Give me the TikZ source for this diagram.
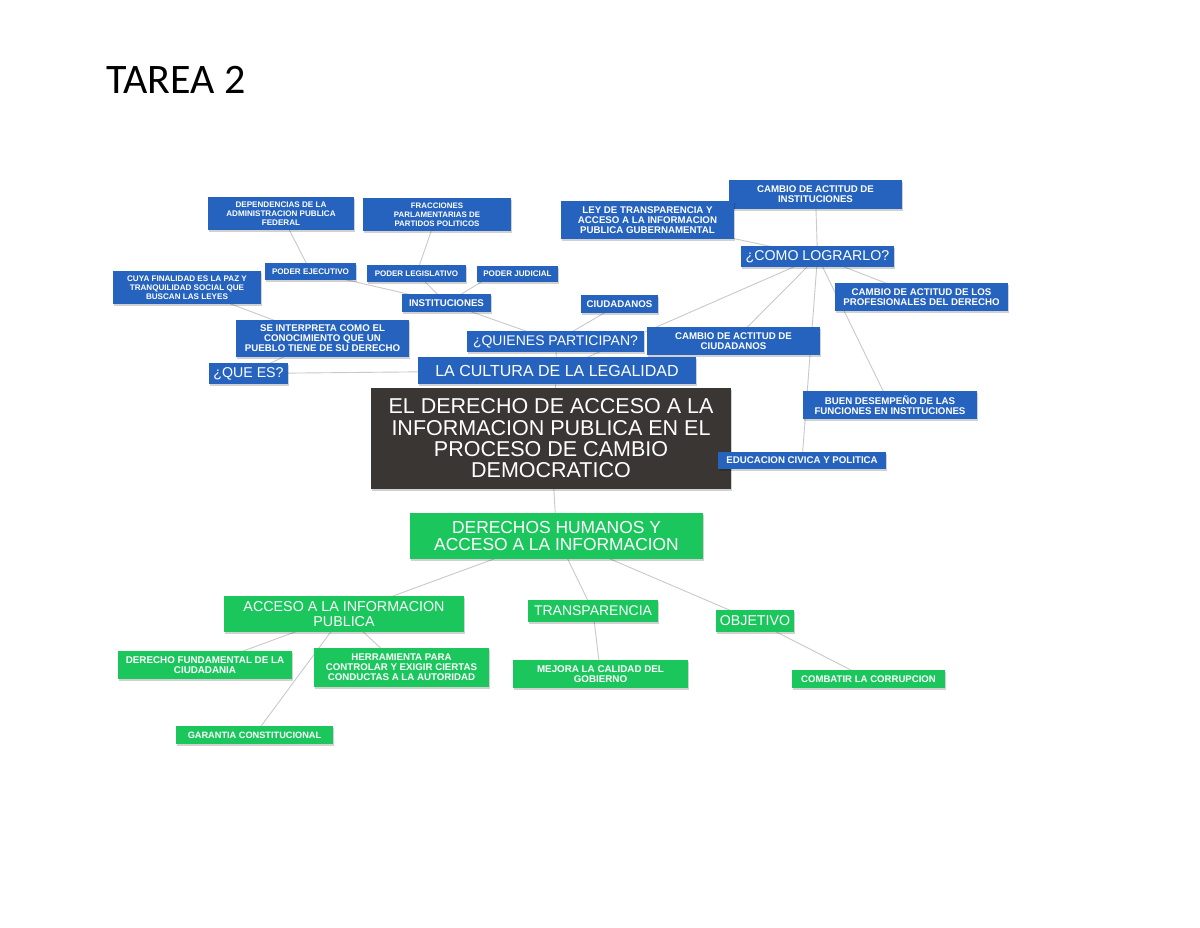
\documentclass[tikz,border=0pt]{standalone}
\usepackage{fontspec}
\setmainfont{Liberation Sans}
\newfontfamily\titlefont{Carlito}
\usetikzlibrary{shadows,backgrounds,calc}
\definecolor{cblue}{HTML}{2563BE}
\definecolor{cgreen}{HTML}{1BC65D}
\definecolor{cdark}{HTML}{3A3634}
\newcommand{\myfs}[2]{\fontsize{#1}{#2}\selectfont}
\newcommand{\mysm}[2]{\fontsize{#1}{#2}\selectfont\bfseries}
\tikzset{
  bx/.style={rectangle, inner sep=0pt, outer sep=0pt, text=white, align=center,
    drop shadow={shadow xshift=1.2pt, shadow yshift=-1.5pt, fill=black, opacity=0.18}},
  blu/.style={bx, fill=cblue},
  grn/.style={bx, fill=cgreen},
  drk/.style={bx, fill=cdark},
  ln/.style={draw=black!21, line width=0.9pt},
}
\begin{document}
\begin{tikzpicture}[x=1pt,y=-1pt]
\useasboundingbox (0,0) rectangle (1200,927);

\node[anchor=base west, inner sep=0pt, font=\titlefont\myfs{42}{42}] (title) at (106,93) {TAREA 2};

% blue top-left cluster
\node[blu, minimum width=146pt, minimum height=33pt, font=\mysm{8.1}{8.8}] (dep) at (281,213.5) {DEPENDENCIAS DE LA\\ADMINISTRACION PUBLICA\\FEDERAL};
\node[blu, minimum width=148pt, minimum height=33pt, font=\mysm{7.9}{8.8}] (frac) at (437,214.5) {FRACCIONES\\PARLAMENTARIAS DE\\PARTIDOS POLITICOS};
\node[blu, minimum width=91pt, minimum height=17pt, font=\mysm{8.1}{8.8}] (pej) at (310.5,271.5) {PODER EJECUTIVO};
\node[blu, minimum width=99pt, minimum height=17pt, font=\mysm{8}{8.8}] (pleg) at (416.5,273.5) {PODER LEGISLATIVO};
\node[blu, minimum width=81pt, minimum height=16pt, font=\mysm{8.1}{8.8}] (pjud) at (517.5,274) {PODER JUDICIAL};
\node[blu, minimum width=148pt, minimum height=33pt, font=\mysm{8.1}{9}] (cuya) at (187,287.5) {CUYA FINALIDAD ES LA PAZ Y\\TRANQUILIDAD SOCIAL QUE\\BUSCAN LAS LEYES};
\node[blu, minimum width=89pt, minimum height=18pt, font=\mysm{9.7}{10}] (inst) at (446.5,303) {INSTITUCIONES};
\node[blu, minimum width=173pt, minimum height=37pt, font=\mysm{9.7}{10}] (sei) at (322.5,338.5) {SE INTERPRETA COMO EL\\CONOCIMIENTO QUE UN\\PUEBLO TIENE DE SU DERECHO};
\node[blu, minimum width=79pt, minimum height=21pt, font=\myfs{14.2}{14}] (quees) at (248.5,373.5) {¿QUE ES?};
\node[blu, minimum width=177pt, minimum height=21pt, font=\myfs{14}{14}] (quien) at (555.5,341.5) {¿QUIENES PARTICIPAN?};
\node[blu, minimum width=278pt, minimum height=27pt, font=\myfs{16}{16}] (cultura) at (557,370.5) {LA CULTURA DE LA LEGALIDAD};
\node[blu, minimum width=77pt, minimum height=18pt, font=\mysm{9.7}{10}] (ciud) at (619.5,304) {CIUDADANOS};

% blue right cluster
\node[blu, minimum width=173pt, minimum height=28pt, font=\mysm{9.7}{10}] (cciud) at (733.5,341) {CAMBIO DE ACTITUD DE\\CIUDADANOS};
\node[blu, minimum width=173pt, minimum height=29pt, font=\mysm{9.7}{10}] (cinst) at (815.5,194.5) {CAMBIO DE ACTITUD DE\\INSTITUCIONES};
\node[blu, minimum width=173pt, minimum height=38pt, font=\mysm{9.7}{10}] (ley) at (647.5,220) {LEY DE TRANSPARENCIA Y\\ACCESO A LA INFORMACION\\PUBLICA GUBERNAMENTAL};
\node[blu, minimum width=153pt, minimum height=21pt, font=\myfs{14.2}{14}] (como) at (817.5,256.5) {¿COMO LOGRARLO?};
\node[blu, minimum width=173pt, minimum height=28pt, font=\mysm{9.7}{10}] (prof) at (921.5,297) {CAMBIO DE ACTITUD DE LOS\\PROFESIONALES DEL DERECHO};
\node[blu, minimum width=174pt, minimum height=28pt, font=\mysm{9.7}{10}] (buen) at (890,405) {BUEN DESEMPEÑO DE LAS\\FUNCIONES EN INSTITUCIONES};

% central
\node[drk, minimum width=360pt, minimum height=101pt, font=\myfs{21.5}{21.3}] (centro) at (551,438.5) {EL DERECHO DE ACCESO A LA\\INFORMACION PUBLICA EN EL\\PROCESO DE CAMBIO\\DEMOCRATICO};

\node[blu, minimum width=168pt, minimum height=17pt, font=\mysm{9.7}{10}] (edu) at (802,460.5) {EDUCACION CIVICA Y POLITICA};

% green
\node[grn, minimum width=293pt, minimum height=46pt, font=\myfs{17.4}{17}] (dh) at (556.5,536) {DERECHOS HUMANOS Y\\ACCESO A LA INFORMACION};
\node[grn, minimum width=240pt, minimum height=36pt, font=\myfs{14.3}{15}] (acc) at (344,614) {ACCESO A LA INFORMACION\\PUBLICA};
\node[grn, minimum width=130pt, minimum height=22pt, font=\myfs{14}{14}] (transp) at (593,611) {TRANSPARENCIA};
\node[grn, minimum width=78pt, minimum height=22pt, font=\myfs{14.2}{14}] (obj) at (755,621) {OBJETIVO};
\node[grn, minimum width=174pt, minimum height=28pt, font=\mysm{9.8}{10}] (dfund) at (205,665) {DERECHO FUNDAMENTAL DE LA\\CIUDADANIA};
\node[grn, minimum width=175pt, minimum height=39pt, font=\mysm{9.7}{10}] (herr) at (401.5,667.5) {HERRAMIENTA PARA\\CONTROLAR Y EXIGIR CIERTAS\\CONDUCTAS A LA AUTORIDAD};
\node[grn, minimum width=175pt, minimum height=28pt, font=\mysm{9.8}{10}] (mej) at (600.5,674) {MEJORA LA CALIDAD DEL\\GOBIERNO};
\node[grn, minimum width=153pt, minimum height=18pt, font=\mysm{9.6}{10}] (comb) at (868.5,679) {COMBATIR LA CORRUPCION};
\node[grn, minimum width=157pt, minimum height=18pt, font=\mysm{9.2}{10}] (gar) at (254.5,735) {GARANTIA CONSTITUCIONAL};

\begin{scope}[on background layer]
\fill[white] (0,0) rectangle (1200,927);
\draw[ln] (centro.center) -- (cultura.center);
\draw[ln] (centro.center) -- (dh.center);
\draw[ln] (cultura.center) -- (quees.center);
\draw[ln] (quees.center) -- (sei.center);
\draw[ln] (sei.center) -- (cuya.center);
\draw[ln] (cultura.center) -- (quien.center);
\draw[ln] (quien.center) -- (inst.center);
\draw[ln] (quien.center) -- (ciud.center);
\draw[ln] (inst.center) -- (pej.center);
\draw[ln] (inst.center) -- (pleg.center);
\draw[ln] (inst.center) -- ($(pjud.center)+(-23,0)$);
\draw[ln] (pej.center) -- (dep.center);
\draw[ln] (pleg.center) -- (frac.center);
\draw[ln] (cultura.center) -- (como.center);
\draw[ln] (como.center) -- (ley.center);
\draw[ln] (como.center) -- (cinst.center);
\draw[ln] (como.center) -- (prof.center);
\draw[ln] (como.center) -- (cciud.center);
\draw[ln] (como.center) -- (buen.center);
\draw[ln] (como.center) -- (edu.center);
\draw[ln] (dh.center) -- (acc.center);
\draw[ln] (dh.center) -- (transp.center);
\draw[ln] (dh.center) -- (obj.center);
\draw[ln] (acc.center) -- (dfund.center);
\draw[ln] (acc.center) -- (herr.center);
\draw[ln] (acc.center) -- (gar.center);
\draw[ln] (transp.center) -- (mej.center);
\draw[ln] (obj.center) -- (comb.center);
\end{scope}
\end{tikzpicture}
\end{document}
